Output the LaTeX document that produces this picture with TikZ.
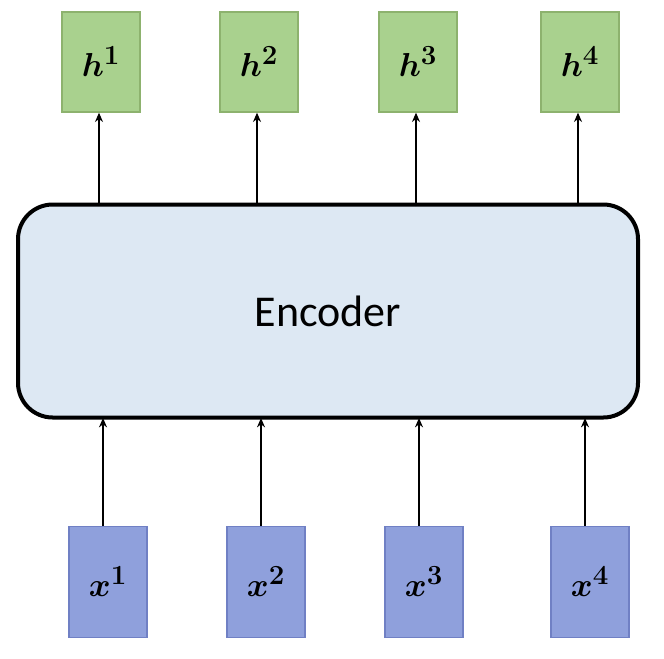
\documentclass[tikz,border=0pt]{standalone}
\usepackage{amsmath,bm}
\usepackage{fontspec}
\newfontfamily\calib{Carlito}
\usetikzlibrary{arrows.meta}
\definecolor{gfill}{HTML}{A9D18E}
\definecolor{gdraw}{HTML}{8DB26E}
\definecolor{bfill}{HTML}{8FA0DC}
\definecolor{bdraw}{HTML}{7080C4}
\definecolor{efill}{HTML}{DDE8F3}
\tikzset{
 hbox/.style={draw=gdraw,fill=gfill,line width=1pt,minimum width=78*0.75pt,minimum height=100*0.75pt,inner sep=0pt,font=\fontsize{30}{34}\selectfont},
 xbox/.style={draw=bdraw,fill=bfill,line width=1pt,minimum width=78*0.75pt,minimum height=111*0.75pt,inner sep=0pt,font=\fontsize{30}{34}\selectfont},
 arr/.style={line width=2pt,-{Stealth[length=7pt,width=6pt]}}
}
\begin{document}
\begin{tikzpicture}[x=0.75pt,y=-0.75pt]
\useasboundingbox (0,0) rectangle (664,658);
\node[draw=black,line width=3pt,fill=efill,rounded corners=26pt,minimum width=620*0.75pt,minimum height=213*0.75pt,font=\calib\fontsize{33}{38}\selectfont] (enc) at (328,311) {Encoder};
\foreach \i/\hx/\xx in {1/101/108,2/259/266,3/418/424,4/580/590}{
 \node[hbox] (h\i) at (\hx,62) {$\bm{h}^{\bm{\i}}$};
 \node[xbox] (x\i) at (\xx,582) {$\bm{x}^{\bm{\i}}$};
 \coordinate (et\i) at (\hx-2,206);
 \coordinate (eb\i) at (\xx-5,418);
 \draw[arr] (et\i) -- (h\i.south -| et\i);
 \draw[arr] (x\i.north -| eb\i) -- (eb\i);
}
\end{tikzpicture}
\end{document}
